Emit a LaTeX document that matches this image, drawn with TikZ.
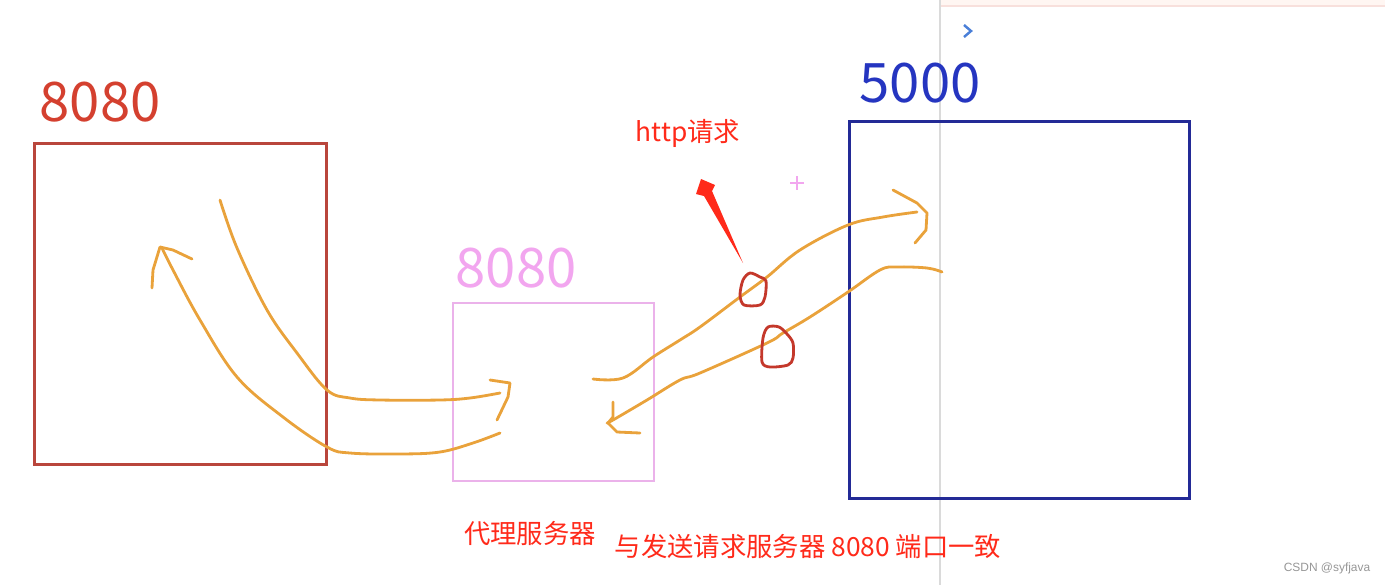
\documentclass[tikz,border=0pt]{standalone}
\usepackage{fontspec}
\newfontfamily\cjk{Noto Sans CJK SC}
\newfontfamily\wmark{Liberation Sans}
\definecolor{pen}{HTML}{E9A23B}
\definecolor{clientred}{HTML}{B9463C}
\definecolor{clientlabel}{HTML}{D4402F}
\definecolor{proxypink}{HTML}{EBB2EA}
\definecolor{proxylabel}{HTML}{F2A6EF}
\definecolor{targetblue}{HTML}{232A96}
\definecolor{targetlabel}{HTML}{2535C0}
\definecolor{notered}{HTML}{FF2A1A}
\definecolor{ringred}{HTML}{C4382B}
\begin{document}
\begin{tikzpicture}
  [
    x=0.02cm, y=-0.02cm,
    inner sep=0pt,
    server/.style={rectangle,draw,line width=1.7pt},
    port/.style={font=\cjk\fontsize{31}{31}\selectfont},
    note/.style={text=notered,font=\cjk\fontsize{15}{15}\selectfont},
    stroke/.style={draw=pen,line width=1.6pt,line cap=round,line join=round},
    ring/.style={draw=ringred,line width=1.6pt},
  ]
  \useasboundingbox (0,0) rectangle (1385,585);
  % browser edge on the right
  \fill[fill={rgb,255:red,255;green,246;blue,242}] (940,0) rectangle (1385,6);
  \draw[draw={rgb,255:red,248;green,224;blue,220},line width=0.6pt] (940,6) -- (1385,6);
  \draw[draw={rgb,255:red,218;green,218;blue,218},line width=0.8pt] (940,0) -- (940,585);
  \draw[draw={rgb,255:red,74;green,127;blue,216},line width=1.4pt] (964,25) -- (971,31) -- (964,37);

  % servers
  \node (client) at (180.5,304) [server,draw=clientred,minimum width=5.86cm,minimum height=6.44cm] {};
  \node (proxy) at (553.5,392) [server,draw=proxypink,line width=1.3pt,minimum width=4.02cm,minimum height=3.56cm] {};
  \node (target) at (1019.5,310) [server,draw=targetblue,minimum width=6.82cm,minimum height=7.56cm] {};
  \node (clientport) at (100,102) [port,text=clientlabel] {8080};
  \node (proxyport) at (516,268) [port,text=proxylabel] {8080};
  \node (targetport) at (920,83) [port,text=targetlabel] {5000};

  % hand drawn flows
  \draw[stroke] plot[smooth,tension=0.6] coordinates {(220,200) (237,248) (267,310) (297,353) (327,390) (350,398) (380,400) (440,400) (470,398) (500,393)};
  \draw[stroke] (490,380) -- (510,383) -- (508,397) -- (497,420);
  \draw[stroke] plot[smooth,tension=0.6] coordinates {(500,433) (473,443) (440,452) (400,454) (350,453) (327,447) (283,417) (237,377) (200,320) (173,270) (162,248)};
  \draw[stroke] (152,288) -- (153,270) -- (160,247) -- (173,250) -- (192,259);
  \draw[stroke] plot[smooth,tension=0.6] coordinates {(593,379) (623,378) (653,357) (680,340) (700,327) (740,297) (767,277) (800,250) (848,225) (883,217) (917,212)};
  \draw[stroke] (893,190) -- (917,203) -- (927,213) -- (926,230) -- (915,243);
  \draw[stroke] plot[smooth,tension=0.6] coordinates {(942,272) (927,268) (897,267) (880,270) (848,292) (810,317) (783,333) (767,343) (700,373) (680,380) (647,400) (613,420) (607,423)};
  \draw[stroke] (613,402) -- (613,417) -- (608,423) -- (617,432) -- (640,433);

  % marks
  \draw[ring] plot[smooth cycle,tension=0.5] coordinates {(750,273) (743,280) (740,295) (744,305) (760,305) (765,297) (766,281) (760,277)};
  \draw[ring] plot[smooth cycle,tension=0.5] coordinates {(768,327) (763,338) (762,362) (770,367) (788,365) (793,358) (793,343) (787,334) (779,327)};
  \fill[fill=notered] (701,179) -- (715,185) -- (712,191) -- (743,263) -- (704,196) -- (696,194) -- cycle;
  \draw[draw=proxylabel,line width=1.2pt] (790,183) -- (804,183) (797,176) -- (797,190);

  % texts
  \node (request) at (688,133) [note] {http请求};
  \node (proxyname) at (530,533) [note] {代理服务器};
  \node (portnote) at (808,546) [note] {与发送请求服务器 8080 端口一致};
  \node (credit) at (1327,568) [text={rgb,255:red,150;green,150;blue,150},font=\wmark\fontsize{6.8}{7}\selectfont] {CSDN @syfjava};
\end{tikzpicture}
\end{document}
